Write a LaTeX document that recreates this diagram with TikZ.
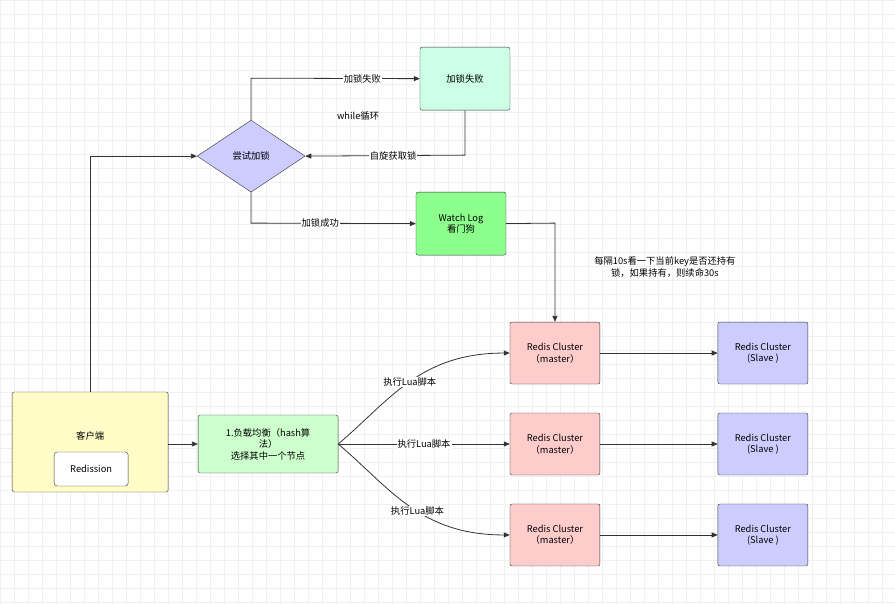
\documentclass[tikz,border=0pt]{standalone}
\usepackage{fontspec}
\setmainfont{Noto Sans CJK SC}
\usetikzlibrary{shapes.geometric,arrows.meta}
\definecolor{mint}{HTML}{CCFFE6}
\begin{document}
\begin{tikzpicture}[x=1pt,y=-1pt,font=\fontsize{9.3}{11.5}\selectfont,
  box/.style={draw=black!80,rounded corners=2pt,minimum width=90pt,minimum height=62pt,align=center,inner sep=1pt},
  arr/.style={draw=black!80,line width=0.8pt,-{Triangle[length=6pt,width=5pt]}},
  lbl/.style={fill=white,inner sep=1pt}]
\fill[white] (0,0) rectangle (895,604);
\foreach \x in {0,14,...,895} \draw[black!6] (\x,0)--(\x,604);
\foreach \y in {0,14,...,604} \draw[black!6] (0,\y)--(895,\y);
\useasboundingbox (0,0) rectangle (895,604);
\node[box,fill=mint,minimum height=63pt] (fail) at (465,78.5) {加锁失败};
\node[diamond,draw=black!80,fill=blue!20,minimum width=108pt,minimum height=72pt,inner sep=0pt,aspect=1.5] (try) at (251,156) {尝试加锁};
\node[box,fill=green!45,minimum height=63pt] (watch) at (461,223.5) {Watch Log\\看门狗};
\node[box,fill=yellow!22,minimum width=156pt,minimum height=100pt] (client) at (90,442) {};
\node at (90,436) {客户端};
\node[draw=black!80,fill=white,rounded corners=3pt,minimum width=74pt,minimum height=34pt] (red) at (91,469) {Redission};
\node[box,fill=green!20,minimum width=140pt,minimum height=58pt] (lb) at (268,444) {1.负载均衡（hash算\\法）\\选择其中一个节点};
\foreach \i/\y in {1/353,2/444,3/535}{
  \node[box,fill=red!20] (m\i) at (555,\y) {Redis Cluster\\（master）};
  \node[box,fill=blue!20] (s\i) at (763,\y) {Redis Cluster\\(Slave )};
  \draw[arr] (m\i) -- (s\i);
}
\draw[arr] (client.north) -- (90,156) -- (try.west);
\draw[arr] (try.north) -- (251,78) -- node[lbl,pos=0.66]{加锁失败} (fail.west);
\draw[arr] (fail.south) -- (465,155) -- node[lbl,pos=0.45]{自旋获取锁} (try.east);
\node at (358,116) {while循环};
\draw[arr] (try.south) -- (251,223) -- node[lbl,pos=0.42]{加锁成功} (watch.west);
\draw[arr] (watch.east) -- (555,223) -- (m1.north);
\node[align=center] at (665,267) {每隔10s看一下当前key是否还持有\\锁，如果持有，则续命30s};
\draw[arr] (client.east|-lb.west) -- (lb.west);
\draw[arr] (lb.east) .. controls (390,400) and (420,353) .. node[lbl,pos=0.5]{执行Lua脚本} (m1.west);
\draw[arr] (lb.east) -- node[lbl,pos=0.5]{执行Lua脚本} (m2.west);
\draw[arr] (lb.east) .. controls (390,488) and (420,535) .. node[lbl,pos=0.55]{执行Lua脚本} (m3.west);
\end{tikzpicture}
\end{document}
